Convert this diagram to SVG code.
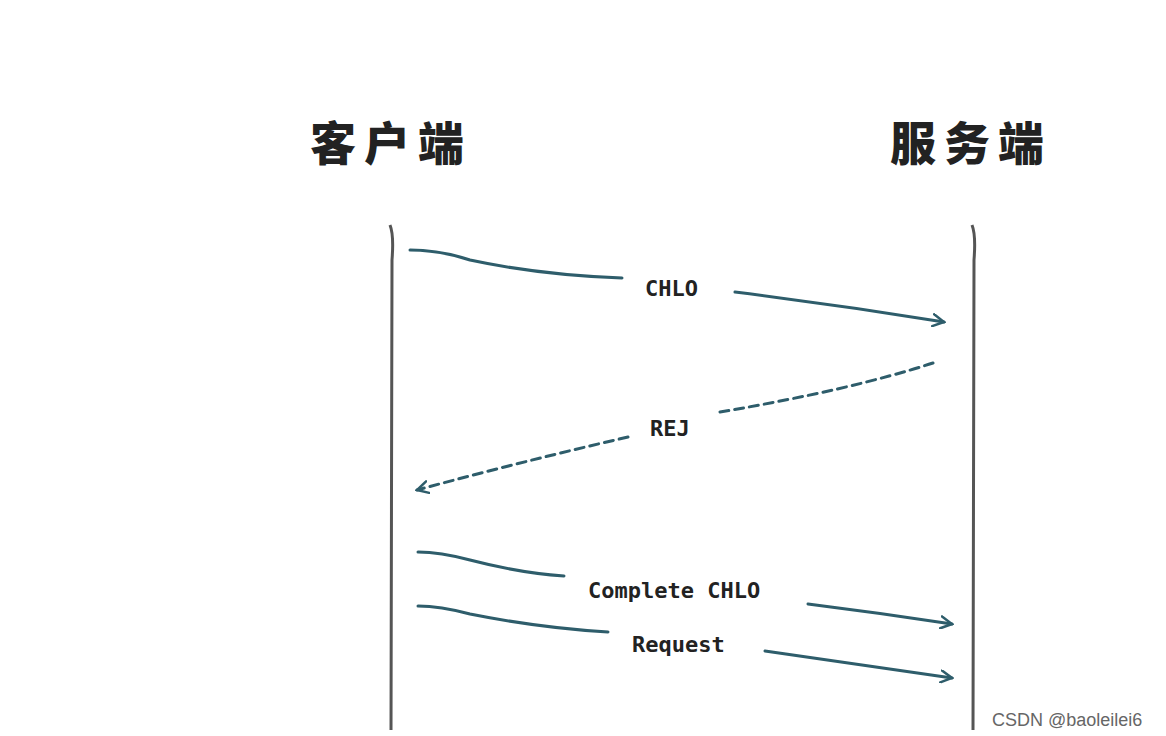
<svg xmlns="http://www.w3.org/2000/svg" width="1166" height="736" viewBox="0 0 1166 736">
<defs>
<marker id="ah" markerWidth="14" markerHeight="14" refX="12" refY="7" orient="auto" markerUnits="userSpaceOnUse">
<path d="M1,1 L12,7 L1,13" fill="none" stroke="#2e5d6b" stroke-width="2.5" stroke-linecap="round"/>
</marker>
<style>
.t{font-family:"Noto Sans CJK SC",sans-serif;font-weight:900;font-size:46px;letter-spacing:8px;fill:#222}
.l{font-family:"DejaVu Sans Mono",monospace;font-weight:bold;font-size:22px;fill:#222}
.a{fill:none;stroke:#2e5d6b;stroke-width:3;stroke-linecap:round}
.d{stroke-dasharray:9 6}
.v{fill:none;stroke:#555;stroke-width:3}
</style>
</defs>
<rect width="1166" height="736" fill="#fff"/>
<g id="client"><text class="t" x="310" y="160">客户端</text><path class="v" d="M390,225 Q394,235 392,260 L391,730"/></g>
<g id="server"><text class="t" x="890" y="160">服务端</text><path class="v" d="M972,225 Q976,235 974,260 L973,730"/></g>
<g id="connectors">
<path class="a" d="M410,250 Q440,250 470,260 Q540,275 622,278"/>
<path class="a" d="M735,292 Q840,305 944,322" marker-end="url(#ah)"/>
<path class="a d" d="M933,363 Q850,390 720,412"/>
<path class="a d" d="M628,437 Q520,462 417,490" marker-end="url(#ah)"/>
<path class="a" d="M418,552 Q440,552 470,560 Q520,573 564,576"/>
<path class="a" d="M808,604 Q880,613 952,624" marker-end="url(#ah)"/>
<path class="a" d="M418,606 Q440,606 470,614 Q540,628 608,632"/>
<path class="a" d="M765,651 Q860,665 952,678" marker-end="url(#ah)"/>
</g>
<g id="labels">
<text class="l" x="645" y="296">CHLO</text>
<text class="l" x="650" y="436">REJ</text>
<text class="l" x="588" y="598">Complete CHLO</text>
<text class="l" x="632" y="652">Request</text>
</g>
<text x="992" y="726" font-family="Liberation Sans,sans-serif" font-size="18" fill="#666">CSDN @baoleilei6</text>
</svg>
